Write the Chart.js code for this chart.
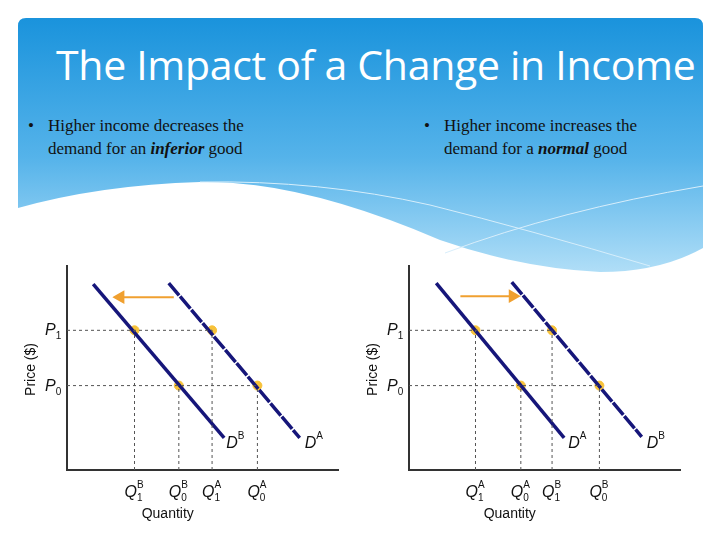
<!DOCTYPE html>
<html><head><meta charset="utf-8">
<script src="https://cdn.jsdelivr.net/npm/chart.js@4"></script>
<style>
body{margin:0;width:720px;height:540px;background:#fff;position:relative;overflow:hidden;font-family:"Liberation Serif",serif}
#bg{position:absolute;left:0;top:0}
h1{position:absolute;left:56px;top:36px;margin:0;font:400 41px "Open Sans",sans-serif;color:#fff;letter-spacing:-0.3px}
.b{position:absolute;font-size:17px;line-height:23px;color:#111}
.b span{position:absolute;left:-20px}
canvas{position:absolute}
</style></head><body>
<svg id="bg" width="720" height="540">
<defs><linearGradient id="g" x1="0" y1="0" x2="0" y2="1">
<stop offset="0" stop-color="#1a93dc"/><stop offset="0.55" stop-color="#55b3ea"/><stop offset="1" stop-color="#b0def7"/></linearGradient></defs>
<path d="M26,18 H695 Q703,18 703,26 V248 Q660,272 600,272 Q520,268 440,240 Q300,180 200,182 Q100,185 18,208 V26 Q18,18 26,18Z" fill="url(#g)"/>
<path d="M200,182 Q320,180 430,205 Q530,230 650,266" stroke="#d6eefb" stroke-width="1" fill="none"/>
<path d="M445,253 Q560,210 703,186" stroke="#d8eefb" stroke-width="1" fill="none"/>
</svg>
<h1>The Impact of a Change in Income</h1>
<div class="b" style="left:48px;top:114px"><span>•</span>Higher income decreases the<br>demand for an <b><i>inferior</i></b> good</div>
<div class="b" style="left:444px;top:114px"><span>•</span>Higher income increases the<br>demand for a <b><i>normal</i></b> good</div>
<canvas id="c1" width="330" height="280" style="left:20px;top:250px"></canvas>
<canvas id="c2" width="330" height="280" style="left:362px;top:250px"></canvas>
<script>
// price levels P0, P1
const priceLevels = [84, 139];
// left chart (inferior good)
const leftInner = [[26,185],[156,32]];
const leftOuter = [[101,186],[231,32]];
const leftQ = [67, 111, 144, 189];
const leftQLabels = [['1','B'],['0','B'],['1','A'],['0','A']];
const leftDLabels = [['B',158,22],['A',236,22]];
const leftArrow = [[106,172],[53,172]];
// right chart (normal good)
const rightInner = [[27,186],[154,32]];
const rightOuter = [[102,187],[231,33]];
const rightQ = [66, 111, 142, 189];
const rightQLabels = [['1','A'],['0','A'],['1','B'],['0','B']];
const rightDLabels = [['A',158,22],['B',236,22]];
const rightArrow = [[51,173],[103,173]];

const navy = '#16167a', gold = '#f7c23a', orange = '#f0a030';

function pts(a){ return a.map(p => ({x:p[0], y:p[1]})); }

function build(id, inner, outer, qs, qLabels, dLabels, arrow){
  const guide = {borderColor:'#555', borderWidth:1, borderDash:[3,3], pointRadius:0, showLine:true};
  const ds = [
    Object.assign({data:[{x:0,y:priceLevels[1]},{x:qs[2],y:priceLevels[1]}]}, guide),
    Object.assign({data:[{x:0,y:priceLevels[0]},{x:qs[3],y:priceLevels[0]}]}, guide),
    Object.assign({data:[{x:qs[0],y:0},{x:qs[0],y:priceLevels[1]}]}, guide),
    Object.assign({data:[{x:qs[1],y:0},{x:qs[1],y:priceLevels[0]}]}, guide),
    Object.assign({data:[{x:qs[2],y:0},{x:qs[2],y:priceLevels[1]}]}, guide),
    Object.assign({data:[{x:qs[3],y:0},{x:qs[3],y:priceLevels[0]}]}, guide),
    {data:pts(inner), showLine:true, borderColor:navy, borderWidth:3.5, pointRadius:0},
    {data:pts(outer), showLine:true, borderColor:navy, borderWidth:3.5, borderDash:[16,1.5], pointRadius:0},
    {data:pts(arrow), showLine:true, borderColor:orange, borderWidth:2,
     pointStyle:'triangle', pointRadius:[0,6], backgroundColor:orange, pointBorderColor:orange,
     rotation: arrow[1][0] < arrow[0][0] ? -90 : 90}
  ];
  ds.push({data:[{x:qs[0],y:priceLevels[1]},{x:qs[1],y:priceLevels[0]},{x:qs[2],y:priceLevels[1]},{x:qs[3],y:priceLevels[0]}],
     backgroundColor:gold, borderColor:gold, pointRadius:4.5});
  const labels = {
    id:'labels',
    afterDraw(chart){
      const c = chart.ctx, xs = chart.scales.x, ys = chart.scales.y;
      c.save(); c.fillStyle = '#111';
      const sub = (main, s, sup, x, y) => {
        c.font = 'italic 16px "Liberation Sans"'; c.textAlign='left'; c.textBaseline='alphabetic';
        c.fillText(main, x, y);
        const w = c.measureText(main).width;
        c.font = '10px "Liberation Sans"';
        if (s) c.fillText(s, x + w, y + 4);
        if (sup) c.fillText(sup, x + w, y - 9);
      };
      const xl = xs.getPixelForValue(0);
      sub('P', '1', null, xl - 22, ys.getPixelForValue(priceLevels[1]) + 5);
      sub('P', '0', null, xl - 22, ys.getPixelForValue(priceLevels[0]) + 5);
      const yb = ys.getPixelForValue(0);
      qs.forEach((q, i) => sub('Q', qLabels[i][0], qLabels[i][1], xs.getPixelForValue(q) - 10, yb + 27));
      dLabels.forEach(d => sub('D', null, d[0], xs.getPixelForValue(d[1]), ys.getPixelForValue(d[2])));
      c.font = '14px "Liberation Sans"'; c.textAlign = 'center';
      c.fillText('Quantity', xs.getPixelForValue(100), yb + 48);
      c.translate(xl - 32, ys.getPixelForValue(100)); c.rotate(-Math.PI/2);
      c.fillText('Price ($)', 0, 0);
      c.restore();
    }
  };
  new Chart(document.getElementById(id), {
    type:'scatter',
    data:{datasets:ds},
    options:{
      responsive:false, animation:false,
      layout:{padding:{left:47, right:12, top:16, bottom:60}},
      plugins:{legend:{display:false}, tooltip:{enabled:false}},
      scales:{
        x:{type:'linear', min:0, max:269, ticks:{display:false}, grid:{display:false, drawTicks:false},
           border:{color:'#333', width:2}},
        y:{type:'linear', min:0, max:203, ticks:{display:false}, grid:{display:false, drawTicks:false},
           border:{color:'#333', width:2}}
      }
    },
    plugins:[labels]
  });
}
build('c1', leftInner, leftOuter, leftQ, leftQLabels, leftDLabels, leftArrow);
build('c2', rightInner, rightOuter, rightQ, rightQLabels, rightDLabels, rightArrow);
</script>
</body></html>
